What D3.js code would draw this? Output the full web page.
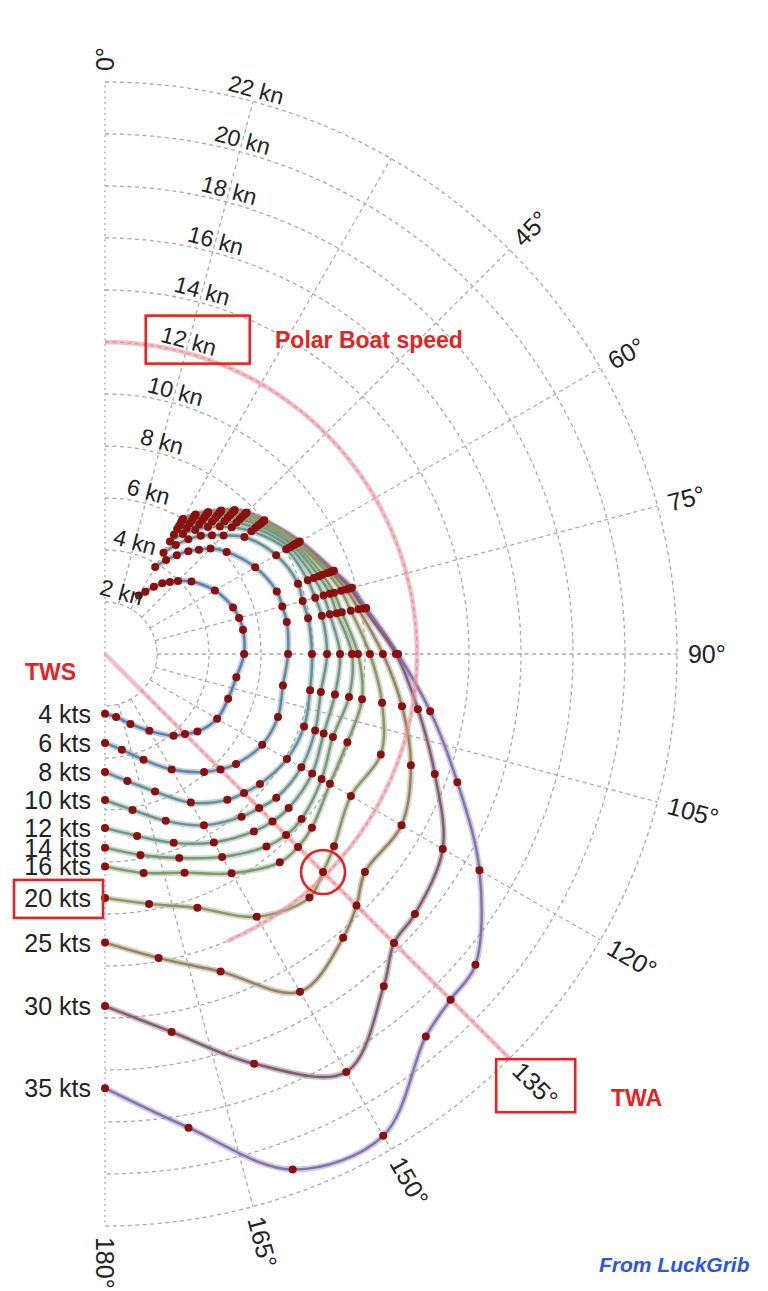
<!DOCTYPE html>
<html><head><meta charset="utf-8">
<script src="https://cdn.jsdelivr.net/npm/d3@7"></script>
<style>body{margin:0;background:#fff}svg{display:block}</style>
</head><body><svg id="c" width="768" height="1291"></svg>
<script>
// True wind angles (deg) of the polar table rows
const twa = [30, 33, 36, 39, 42, 45, 50, 60, 70, 75, 80, 90, 100, 110, 120, 130, 135, 140, 150, 160, 170, 180];
const twsLabels = ["4 kts","6 kts","8 kts","10 kts","12 kts","14 kts","16 kts","20 kts","25 kts","30 kts","35 kts"];
// Boat speed (kn) per TWS, one value per TWA row
const s4  = [2.6, 2.85, 3.2, 3.5, 3.73, 3.97, 4.34, 4.88, 5.24, 5.34, 5.39, 5.35, 5.13, 5.04, 4.98, 4.64, 4.35, 4.1, 3.41, 2.86, 2.46, 2.3];
const s6  = [3.86, 4.31, 4.7, 5.09, 5.4, 5.74, 6.11, 6.67, 7.03, 7.06, 7.1, 7.04, 6.95, 7.08, 6.98, 6.58, 6.28, 5.93, 5.13, 4.33, 3.74, 3.42];
const s8  = [4.5, 5.0, 5.45, 5.85, 6.15, 6.45, 7.0, 7.6, 7.9, 7.87, 7.93, 7.96, 8.01, 8.15, 8.08, 7.78, 7.56, 7.32, 6.6, 5.63, 4.96, 4.54];
const s10 = [5.0, 5.5, 5.9, 6.29, 6.6, 6.89, 7.35, 8.05, 8.3, 8.37, 8.47, 8.54, 8.43, 8.6, 8.72, 8.6, 8.38, 8.17, 7.61, 6.83, 6.09, 5.62];
const s12 = [5.3, 5.77, 6.17, 6.54, 6.87, 7.14, 7.55, 8.2, 8.55, 8.7, 8.78, 9.04, 8.98, 8.95, 9.2, 9.22, 9.11, 8.91, 8.37, 7.73, 7.11, 6.69];
const s14 = [5.55, 5.98, 6.36, 6.73, 7.06, 7.33, 7.7, 8.33, 8.75, 8.95, 9.05, 9.5, 9.53, 9.33, 9.62, 9.87, 9.85, 9.66, 9.01, 8.35, 7.85, 7.45];
const s16 = [5.7, 6.12, 6.49, 6.85, 7.19, 7.45, 7.8, 8.42, 8.9, 9.12, 9.25, 9.73, 10.04, 9.92, 9.99, 10.39, 10.5, 10.46, 9.74, 8.95, 8.55, 8.17];
const s20 = [5.85, 6.26, 6.62, 6.98, 7.32, 7.58, 7.9, 8.52, 9.1, 9.4, 9.6, 10.19, 10.82, 11.29, 10.92, 11.5, 11.86, 12.23, 11.67, 10.39, 9.76, 9.38];
const s25 = [5.92, 6.33, 6.69, 7.04, 7.39, 7.64, 7.95, 8.58, 9.22, 9.6, 9.9, 10.69, 11.6, 12.52, 13.17, 13.05, 13.68, 14.25, 15.0, 13.0, 11.87, 11.1];
const s30 = [5.97, 6.37, 6.72, 7.07, 7.42, 7.67, 7.98, 8.62, 9.3, 9.75, 10.1, 11.19, 12.22, 13.5, 15.0, 15.56, 15.72, 16.68, 18.56, 16.77, 14.76, 13.54];
const s35 = [6.0, 6.4, 6.75, 7.1, 7.45, 7.7, 8.0, 8.65, 9.37, 9.83, 10.2, 11.27, 12.7, 14.42, 16.63, 18.6, 18.8, 19.2, 21.4, 21.1, 18.5, 16.7];
const ringTicks = [2, 4, 6, 8, 10, 12, 14, 16, 18, 20, 22];
const ringLabels = ["2 kn","4 kn","6 kn","8 kn","10 kn","12 kn","14 kn","16 kn","18 kn","20 kn","22 kn"];
const angleTicks = [0, 15, 30, 45, 60, 75, 90, 105, 120, 135, 150, 165, 180];
const angleLabelTicks = [0, 45, 60, 75, 90, 105, 120, 135, 150, 165, 180];
const highlightSpeed = 12;   // "Polar Boat speed" circle
const highlightTWA = 135;    // "TWA" line
const highlightTWS = "20 kts";

const series = [s4, s6, s8, s10, s12, s14, s16, s20, s25, s30, s35];
const colors = ["#6b8ec2","#7397b6","#76a0aa","#7da6a0","#83a995","#89ab8a","#91ac80","#9ea979","#a59472","#8f6b80","#9682c2"];

const cx = 105, cy = 654;
const r = d3.scaleLinear().domain([0, 22]).range([0, 572]);
const ang = d3.scaleLinear().domain([0, 180]).range([0, Math.PI]);
const pt = (deg, kn) => [cx + r(kn) * Math.sin(ang(deg)), cy - r(kn) * Math.cos(ang(deg))];

const svg = d3.select("#c");
svg.append("rect").attr("width", 768).attr("height", 1291).attr("fill", "#fff");
const g = svg.append("g").attr("transform", `translate(${cx},${cy})`);
const FONT = "'Liberation Sans', Arial, Helvetica, sans-serif";

// grid rings
const gridColor = "#a9a9a9";
g.append("g").selectAll("path").data(ringTicks).join("path")
  .attr("d", d => { const p = d3.path(); p.arc(0, 0, r(d), -Math.PI/2, Math.PI/2); return p.toString(); })
  .attr("fill", "none").attr("stroke", gridColor).attr("stroke-width", 1.3).attr("stroke-dasharray", "4,3.5");
// radial lines
g.append("g").selectAll("line").data(angleTicks).join("line")
  .attr("x1", d => (d === 0 || d === 180 ? 0 : r(2)) * Math.sin(ang(d)))
  .attr("y1", d => -(d === 0 || d === 180 ? 0 : r(2)) * Math.cos(ang(d)))
  .attr("x2", d => r(22) * Math.sin(ang(d)))
  .attr("y2", d => -r(22) * Math.cos(ang(d)))
  .attr("stroke", gridColor).attr("stroke-width", 1.3)
  .attr("stroke-dasharray", d => (d === 0 || d === 180) ? "2,3.5" : "4,3.5");

// ring labels along 15 deg
svg.append("g").selectAll("text").data(ringTicks).join("text")
  .attr("transform", d => { const p = pt(15, d); return `translate(${p[0]},${p[1]}) rotate(15)`; })
  .attr("y", -4).attr("text-anchor", "middle")
  .attr("font-family", FONT).attr("font-size", 23).attr("fill", "#222")
  .text((d, i) => ringLabels[i]);

// angle labels
svg.append("g").selectAll("text").data(angleLabelTicks).join("text")
  .attr("transform", d => { const p = pt(d, 22.42); return `translate(${p[0]},${p[1]}) rotate(${d - 90})`; })
  .attr("dominant-baseline", "central").attr("text-anchor", "start")
  .attr("font-family", FONT).attr("font-size", 25).attr("fill", "#222")
  .text(d => d + "°");

// curves
const line = d3.lineRadial().angle(d => ang(d[0])).radius(d => r(d[1])).curve(d3.curveCatmullRom.alpha(0.5));
const curveData = series.map(s => twa.map((a, i) => [a, s[i]]));
const lg = g.append("g");
curveData.slice().reverse().forEach((cd, k) => {
  const i = curveData.length - 1 - k;
  lg.append("path").attr("d", line(cd)).attr("fill", "none")
    .attr("stroke", colors[i]).attr("stroke-width", 6).attr("stroke-opacity", 0.45);
  lg.append("path").attr("d", line(cd)).attr("fill", "none")
    .attr("stroke", d3.color(colors[i]).darker(0.35)).attr("stroke-width", 2.4);
});

// pink highlight: boat speed arc and TWA line
const pink = "#f0909a";
g.append("path")
  .attr("d", () => { const p = d3.path(); p.arc(0, 0, r(highlightSpeed), -Math.PI/2, -Math.PI/2 + ang(157)); return p.toString(); })
  .attr("fill", "none").attr("stroke", pink).attr("stroke-width", 4.5).attr("stroke-opacity", 0.6);
g.append("line").attr("x1", 0).attr("y1", 0)
  .attr("x2", r(22) * Math.sin(ang(highlightTWA))).attr("y2", -r(22) * Math.cos(ang(highlightTWA)))
  .attr("stroke", pink).attr("stroke-width", 4.5).attr("stroke-opacity", 0.6);

// dots
const dg = g.append("g");
curveData.forEach(cd => {
  dg.selectAll(null).data(cd).join("circle")
    .attr("cx", d => r(d[1]) * Math.sin(ang(d[0])))
    .attr("cy", d => -r(d[1]) * Math.cos(ang(d[0])))
    .attr("r", 4).attr("fill", "#8a1010");
});

// TWS labels at 180 deg
svg.append("g").selectAll("text").data(series).join("text")
  .attr("x", 91).attr("y", s => pt(180, s[s.length - 1])[1])
  .attr("dominant-baseline", "central").attr("text-anchor", "end")
  .attr("font-family", FONT).attr("font-size", 25).attr("fill", "#222")
  .text((s, i) => twsLabels[i]);

// red annotations
const red = "#e42424";
const ann = svg.append("g").attr("fill", "none").attr("stroke", red).attr("stroke-width", 2.6);
{ const p = pt(15, highlightSpeed); ann.append("rect").attr("x", p[0] - 40).attr("y", p[1] - 37).attr("width", 104).attr("height", 48); }
{ const iT = twsLabels.indexOf(highlightTWS); const y = pt(180, series[iT][twa.length - 1])[1];
  ann.append("rect").attr("x", 14).attr("y", y - 18).attr("width", 89).attr("height", 38); }
{ const p = pt(highlightTWA, 22.42); ann.append("rect").attr("x", p[0] - 21).attr("y", p[1] - 7).attr("width", 79).attr("height", 53); }
{ const iT = twsLabels.indexOf(highlightTWS); const p = pt(highlightTWA, series[iT][twa.indexOf(highlightTWA)]);
  ann.append("circle").attr("cx", p[0]).attr("cy", p[1]).attr("r", 22); }

const tx = svg.append("g").attr("font-family", FONT).attr("font-weight", "bold").attr("fill", red);
tx.append("text").attr("x", 275).attr("y", 348).attr("font-size", 23).text("Polar Boat speed");
tx.append("text").attr("x", 25).attr("y", 680).attr("font-size", 23).text("TWS");
tx.append("text").attr("x", 611).attr("y", 1106).attr("font-size", 23).text("TWA");
svg.append("text").attr("x", 599).attr("y", 1272).attr("font-family", FONT).attr("font-weight", "bold")
  .attr("font-style", "italic").attr("font-size", 21).attr("fill", "#2b55e6").text("From LuckGrib");
</script></body></html>
